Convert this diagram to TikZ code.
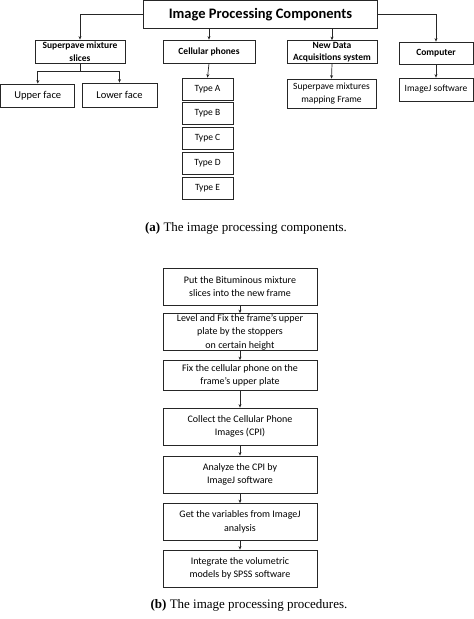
\documentclass[tikz,border=0pt]{standalone}
\usepackage{fontspec}
\setmainfont{Carlito}
\newfontfamily\capfont{Liberation Serif}
\usetikzlibrary{arrows.meta,positioning}
\begin{document}
\begin{tikzpicture}[x=1pt,y=-1pt,
  box/.style={draw=black!85,line width=0.8pt,inner sep=0pt,align=center,
    font=\fontsize{10.5}{12.5}\selectfont},
  sbox/.style={box,font=\fontsize{9.5}{12.5}\selectfont},
  hbox/.style={box,font=\bfseries\fontsize{9.5}{12.5}\selectfont},
  arr/.style={draw=black!85,line width=0.7pt,-{Stealth[length=3.5pt,width=3pt]}},
  ln/.style={draw=black!85,line width=0.7pt},
  captxt/.style={font=\capfont\fontsize{13}{15}\selectfont,inner sep=0pt}]
\useasboundingbox (0,0) rectangle (474,619);
% part (a)
\node[box,font=\bfseries\fontsize{14.5}{16}\selectfont,line width=1pt,minimum width=234,minimum height=28] (title) at (260.5,14.5) {Image Processing Components};
\node[hbox,minimum width=90,minimum height=23] (sp) at (80,51.5) {Superpave mixture\\slices};
\node[hbox,minimum width=92,minimum height=23] (cell) at (209,51.5) {Cellular phones};
\node[hbox,minimum width=90,minimum height=23] (nd) at (332,52) {New Data\\Acquisitions system};
\node[hbox,minimum width=74,minimum height=22] (comp) at (436,53) {Computer};
\node[box,minimum width=74,minimum height=23] (upper) at (37.8,95.5) {Upper face};
\node[box,minimum width=75,minimum height=24] (lower) at (119.5,95) {Lower face};
\node[sbox,minimum width=51,minimum height=22] (ta) at (207.5,89) {Type A};
\node[sbox,minimum width=51,minimum height=22] (tb) at (207.5,113.5) {Type B};
\node[sbox,minimum width=51,minimum height=22] (tc) at (207.5,138.5) {Type C};
\node[sbox,minimum width=51,minimum height=22] (td) at (207.5,163.5) {Type D};
\node[sbox,minimum width=51,minimum height=22] (te) at (207.5,188.5) {Type E};
\node[sbox,minimum width=89,minimum height=29] (frame) at (331.5,93.5) {Superpave mixtures\\mapping Frame};
\node[sbox,minimum width=74,minimum height=23] (ij) at (436,89.5) {ImageJ software};
\draw[arr] (title.west) -| (sp.north);
\draw[arr] (title.east) -| (comp.north);
\draw[arr] (cell.north |- title.south) -- (cell.north);
\draw[arr] (nd.north |- title.south) -- (nd.north);
\draw[ln] (sp.south) -- ++(0,8) coordinate (spj);
\draw[ln] (upper.north |- spj) -- (lower.north |- spj);
\draw[arr] (upper.north |- spj) -- (upper.north);
\draw[arr] (lower.north |- spj) -- (lower.north);
\draw[arr] (cell.south) -- (ta.north);
\draw[arr] (nd.south) -- (frame.north);
\draw[arr] (comp.south) -- (ij.north);
\node[captxt] (capa) at (246,228) {\textbf{(a)} The image processing components.};
% part (b)
\begin{scope}[every node/.style={box,minimum width=154,font=\fontsize{10}{13.5}\selectfont}]
\node[minimum height=37] (b1) at (240,286.5) {Put the Bituminous mixture\\slices into the new frame};
\node[minimum height=37] (b2) at (240,332) {Level and Fix the frame’s upper\\plate by the stoppers\\on certain height};
\node[minimum height=30] (b3) at (240,375.5) {Fix the cellular phone on the\\frame’s upper plate};
\node[minimum height=37] (b4) at (240,426.5) {Collect the Cellular Phone\\Images (CPI)};
\node[minimum height=37] (b5) at (240,474.5) {Analyze the CPI by\\ImageJ software};
\node[minimum height=37] (b6) at (240,522) {Get the variables from ImageJ\\analysis};
\node[minimum height=37] (b7) at (240,568.5) {Integrate the volumetric\\models by SPSS software};
\end{scope}
\foreach \a/\b in {b1/b2,b2/b3,b3/b4,b4/b5,b5/b6,b6/b7} \draw[arr] (\a) -- (\b);
\node[captxt] (capb) at (249,605) {\textbf{(b)} The image processing procedures.};
\end{tikzpicture}
\end{document}
